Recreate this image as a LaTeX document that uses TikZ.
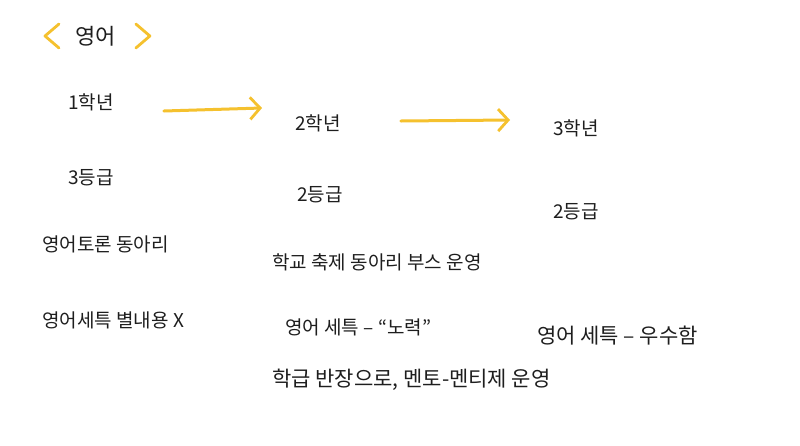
\documentclass[tikz,border=0pt]{standalone}
\usepackage{fontspec}
\setmainfont{Noto Sans CJK KR}
\usetikzlibrary{arrows.meta}

\definecolor{penyellow}{HTML}{F5C12E}
\definecolor{penink}{HTML}{1E1E1E}

\tikzset{
  note/.style={anchor=west, inner sep=0pt, text=penink, font=\fontsize{19}{22}\selectfont},
  widenote/.style={note, font=\fontsize{21}{24}\selectfont},
  bigtitle/.style={note, font=\fontsize{22}{26}\selectfont},
  arrowline/.style={draw=penyellow, line width=3pt, line cap=round,
    -{Straight Barb[length=10pt, width=22pt, line width=2.8pt]}},
  bracket/.style={draw=penyellow, line width=2.8pt, line cap=round, line join=round}
}

\begin{document}
\begin{tikzpicture}[x=1pt, y=-1pt]
  \useasboundingbox[fill=white] (0,0) rectangle (800,445);

  \node[bigtitle] (title) at (75,36) {영어};
  \draw[bracket] ([xshift=-16pt,yshift=12pt]title.west) -- ([xshift=-30pt]title.west) -- ([xshift=-16pt,yshift=-12pt]title.west);
  \draw[bracket] ([xshift=20pt,yshift=12pt]title.east) -- ([xshift=34pt]title.east) -- ([xshift=20pt,yshift=-12pt]title.east);

  \node[note] (y1) at (68,102) {1학년};
  \node[note] (y2) at (295,123) {2학년};
  \node[note] (y3) at (553,128) {3학년};

  \draw[arrowline] ([xshift=50pt,yshift=-9pt]y1.east) -- ([xshift=-33pt,yshift=15pt]y2.west);
  \draw[arrowline] ([xshift=60pt,yshift=2pt]y2.east) -- ([xshift=-43pt,yshift=8pt]y3.west);

  \node[note] (g1) at (68,178) {3등급};
  \node[note] (g2) at (297,195) {2등급};
  \node[note] (g3) at (553,212) {2등급};

  \node[note] (c1) at (42,244) {영어토론 동아리};
  \node[note] (c2) at (272,262) {학교 축제 동아리 부스 운영};

  \node[note] (s1) at (42,320) {영어세특 별내용 X};
  \node[note] (s2) at (285,327) {영어 세특 – “노력”};
  \node[widenote] (s3) at (537,336) {영어 세특 – 우수함};
  \node[widenote] (s4) at (272,380) {학급 반장으로, 멘토-멘티제 운영};
\end{tikzpicture}
\end{document}
